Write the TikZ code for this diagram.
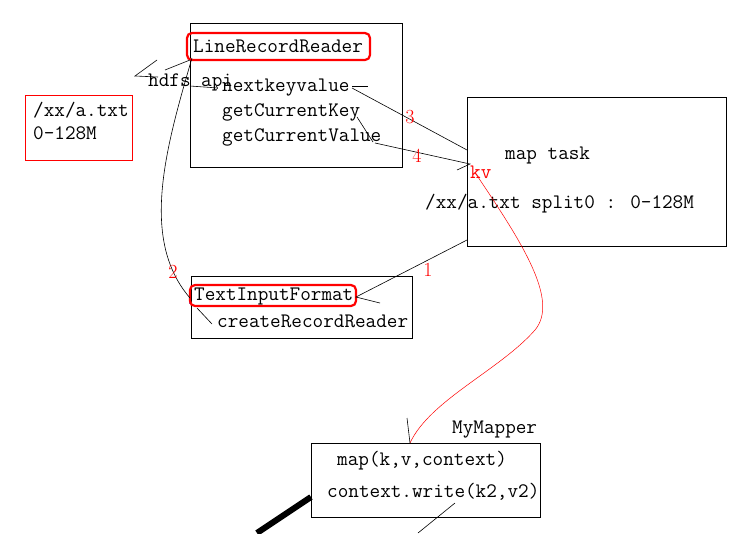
\documentclass[tikz,border=0pt]{standalone}
\begin{document}
\begin{tikzpicture}[x=1pt,y=-1pt,
 txt/.style={font=\ttfamily\fontsize{20.6}{21}\selectfont,anchor=west,inner sep=0pt},
 box/.style={draw,line width=0.8pt},
 lbl/.style={text=red,font=\fontsize{20}{20}\selectfont,inner sep=0pt},
 ln/.style={line width=0.6pt},
 hl/.style={draw=red,line width=2.2pt,rounded corners=5pt}]
\useasboundingbox (0,0) rectangle (749,533);
\fill[white] (0,0) rectangle (749,533);
\draw[red,line width=0.8pt] (25,95) rectangle (132,160);
\node[txt] (f1) at (33,110) {/xx/a.txt};
\node[txt] (f2) at (33,133) {0-128M};
\draw[box] (190,23) rectangle (402,167);
\draw[hl] (187,33) rectangle (370,60);
\node[txt] (lrr) at (193,46) {LineRecordReader};
\node[txt] (nkv) at (222,88) {nextkeyvalue};
\node[txt] (gck) at (222,112) {getCurrentKey};
\node[txt] (gcv) at (222,137) {getCurrentValue};
\node[txt] (hdfs) at (148,82) {hdfs api};
\draw[ln] (157,60) -- (135,76) -- (158,77);
\draw[ln] (165,70) -- (190,60);
\draw[ln,->] (190,86) -- (218,88);
\draw[ln] (352,86) -- (368,86);
\draw[box] (467,97) rectangle (726,246);
\node[txt] (mt) at (505,155) {map task};
\node[txt] (sp) at (425,204) {/xx/a.txt split0 : 0-128M};
\node[text=red,font=\ttfamily\fontsize{20.6}{21}\selectfont,inner sep=0pt,anchor=west] (kv) at (470,172) {kv};
\draw[box] (191,276) rectangle (412,338);
\draw[line width=2.5pt,violet!70] (190,290) -- (190,304);
\draw[hl] (190,285) rectangle (356,306);
\node[txt] (tif) at (194,296) {TextInputFormat};
\node[txt] (crr) at (217,321) {createRecordReader};
\draw[box] (311,443) rectangle (540,517);
\node[txt] (mm) at (452,430) {MyMapper};
\node[txt] (mp) at (337,461) {map(k,v,context)};
\node[txt] (cw) at (327,492) {context.write(k2,v2)};
% connectors
\draw[ln] (467,240) -- (356,297) -- (380,303);
\node[lbl] (l1) at (428,270) {1};
\draw[ln] (190,298) .. controls (140,240) and (165,150) .. (192,58);
\draw[ln] (197,308) -- (212,324);
\node[lbl] (l2) at (173,272) {2};
\draw[ln] (352,88) -- (467,150);
\node[lbl] (l3) at (410,117) {3};
\draw[ln] (357,117) -- (373,142);
\draw[ln] (375,143) -- (470,164) -- (457,170);
\node[lbl] (l4) at (417,156) {4};
\draw[red,line width=0.5pt] (478,177) .. controls (520,240) and (560,300) .. (535,330) .. controls (500,370) and (430,400) .. (410,443);
\draw[ln] (407,418) -- (410,443);
\draw[line width=6pt] (311,497) -- (257,533);
\draw[ln] (455,503) -- (418,533);
\end{tikzpicture}
\end{document}
